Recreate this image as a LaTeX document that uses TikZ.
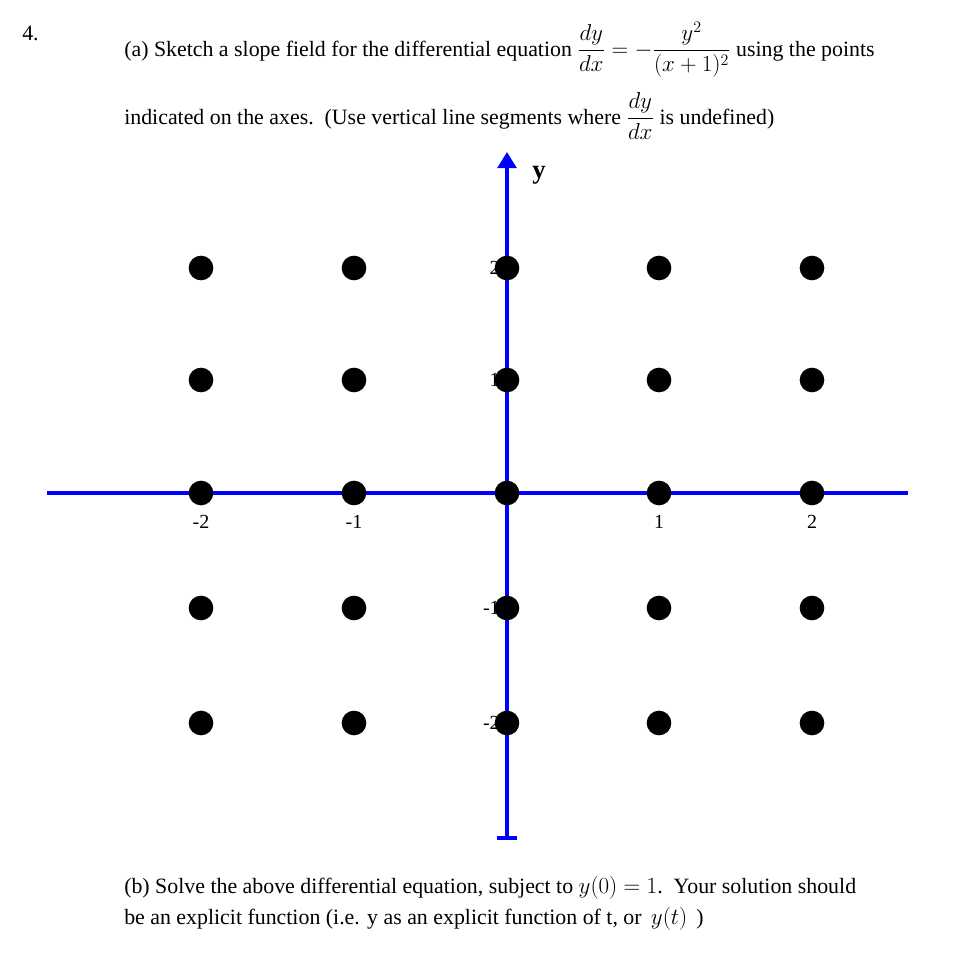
\documentclass[tikz,border=0pt]{standalone}
\usepackage{fontspec}
\setmainfont{Liberation Serif}
\usepackage{amsmath}
\usetikzlibrary{arrows.meta}
\begin{document}
\begin{tikzpicture}[x=0.75pt,y=-0.75pt,
  dot/.style={circle,fill=black,minimum size=18.5pt,inner sep=0pt},
  axis/.style={blue,line width=2.6pt},
  txt/.style={anchor=base west,inner sep=0pt,font=\fontsize{16.4}{19}\selectfont},
  lbl/.style={inner sep=0pt,font=\fontsize{15}{18}\selectfont}]
\useasboundingbox (0,0) rectangle (974,960);
\node[txt] (num) at (22,40) {4.};
\node[txt] (l1) at (124,56) {(a) Sketch a slope field for the differential equation $\dfrac{dy}{dx}=-\dfrac{y^2}{(x+1)^2}$ using the points};
\node[txt] (l2) at (124,124) {indicated on the axes.\ \ (Use vertical line segments where $\dfrac{dy}{dx}$ is undefined)};
\node[txt] (l3) at (124,893) {(b) Solve the above differential equation, subject to $y(0)=1$.\ \ Your solution should};
\node[txt] (l4) at (124,924) {be an explicit function (i.e. y as an explicit function of t, or $\,y(t)$\ \,)};
% axes
\coordinate (xl) at (47,493); \coordinate (xr) at (908,493);
\coordinate (yb) at (507,838); \coordinate (yt) at (507,152);
\draw[axis] (xl) -- (xr);
\draw[axis,-{Triangle[length=12pt,width=14pt]}] (yb) -- (yt);
\draw[axis] (497,838) -- (517,838);
\node[font=\bfseries\fontsize{20}{24}\selectfont] (ylab) at (539,175) {y};
\foreach \x/\l in {201/-2,354/-1,659/1,812/2}{
  \draw[blue,line width=1.2pt] (\x,483) -- (\x,503);
  \node[lbl] at (\x,522) {\l};}
\foreach \y/\l in {268/2,380/1,608/-1,723/-2}{
  \node[lbl,anchor=east] at (500,\y) {\l};}
\foreach \x in {201,354,507,659,812}
  \foreach \y in {268,380,493,608,723}
    \node[dot] at (\x,\y) {};
\end{tikzpicture}
\end{document}
